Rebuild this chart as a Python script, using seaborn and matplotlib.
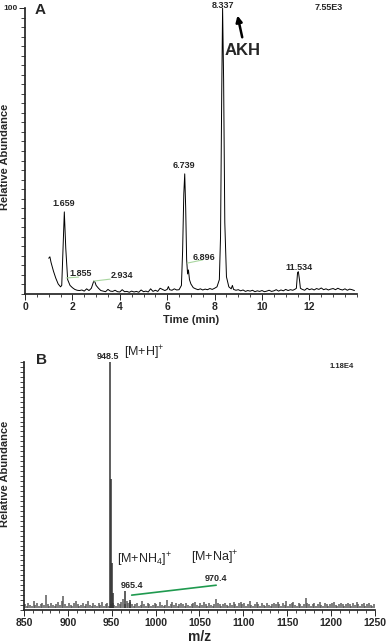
import numpy as np
import matplotlib
matplotlib.use("Agg")
import matplotlib.pyplot as plt
import seaborn as sns

# ---- panel A: chromatogram (time in min, relative abundance in %)
rt_time = [1.0, 1.05, 1.1, 1.2, 1.3, 1.4, 1.5, 1.55, 1.6, 1.659, 1.72, 1.8, 1.9, 2.0,
           2.1, 2.2, 2.3, 2.4, 2.5, 2.6, 2.7, 2.8, 2.9, 2.95, 3.0, 3.1, 3.2, 3.3, 3.4,
           3.5, 3.6, 3.7, 3.8, 3.9, 4.0, 4.1, 4.2, 4.3, 4.4, 4.5, 4.6, 4.7, 4.8, 4.9,
           5.0, 5.1, 5.2, 5.3, 5.4, 5.5, 5.6, 5.7, 5.8, 5.9, 6.0, 6.05, 6.1, 6.2, 6.3,
           6.4, 6.5, 6.6, 6.65, 6.7, 6.739, 6.78, 6.82, 6.86, 6.896, 6.94, 7.0, 7.1,
           7.2, 7.3, 7.4, 7.5, 7.6, 7.7, 7.8, 7.9, 8.0, 8.1, 8.2, 8.25, 8.3, 8.337,
           8.38, 8.43, 8.5, 8.6, 8.7, 8.75, 8.8, 8.9, 9.0, 9.1, 9.2, 9.3, 9.4, 9.5,
           9.6, 9.7, 9.8, 9.9, 10.0, 10.1, 10.2, 10.3, 10.4, 10.5, 10.6, 10.7, 10.8,
           10.9, 11.0, 11.1, 11.2, 11.3, 11.4, 11.45, 11.5, 11.534, 11.58, 11.62,
           11.7, 11.8, 11.9, 12.0, 12.1, 12.2, 12.3, 12.4, 12.5, 12.6, 12.7, 12.8,
           12.9, 13.0, 13.1, 13.2, 13.3, 13.4, 13.5, 13.6, 13.7, 13.8, 13.9]
rt_abund = [12.5, 13.0, 11.0, 8.0, 5.5, 3.5, 2.5, 3.0, 15.0, 28.7, 16.0, 5.0, 3.0, 2.2,
            1.6, 1.3, 1.2, 1.4, 1.0, 1.8, 1.2, 2.0, 4.5, 4.2, 3.0, 2.0, 1.2, 1.0, 0.8,
            1.6, 1.0, 0.9, 1.3, 0.8, 0.7, 1.5, 0.8, 0.9, 0.6, 1.0, 0.7, 0.9, 0.6, 1.4,
            0.8, 1.0, 0.7, 1.8, 0.9, 1.3, 0.9, 2.0, 1.6, 1.2, 1.6, 2.6, 1.5, 1.3, 1.8,
            1.4, 1.5, 3.0, 15.0, 35.0, 42.0, 30.0, 12.0, 7.0, 8.4, 5.0, 3.5, 2.2,
            1.8, 1.5, 1.8, 1.4, 1.7, 1.5, 1.9, 1.6, 2.0, 2.5, 5.0, 20.0, 70.0, 100.0,
            75.0, 25.0, 6.0, 2.5, 1.8, 3.0, 1.6, 1.3, 1.5, 1.1, 1.4, 0.9, 1.2, 1.0,
            1.3, 0.8, 1.1, 0.9, 1.2, 0.8, 1.0, 1.3, 0.9, 1.1, 1.5, 1.0, 1.4,
            1.1, 1.6, 1.2, 1.5, 1.3, 1.7, 2.0, 7.5, 7.8, 5.0, 2.0,
            1.6, 1.3, 2.0, 1.5, 1.8, 1.4, 1.9, 1.6, 2.1, 1.5, 1.8, 1.4,
            1.7, 1.9, 1.5, 2.0, 1.6, 1.4, 1.8, 1.3, 1.7, 1.5, 1.2]

# peak labels: text, x, y
peak_labels = ["1.659", "1.855", "2.934", "6.739", "6.896", "8.337", "11.534"]
peak_label_x = [1.62, 2.34, 4.1, 6.72, 7.57, 8.34, 11.57]
peak_label_y = [31.5, 7.0, 6.3, 45.0, 12.6, 101.0, 9.4]

# ---- panel B: mass spectrum
mz_peaks = [948.5, 949.5, 950.5, 951.5, 965.4, 970.4]
int_peaks = [100, 53, 19, 7, 7.5, 4]
noise_heights = [
    2.5, 1.8, 3.0, 2.2, 1.6, 3.5, 2.0, 2.8, 1.7, 2.4, 3.0, 2.1, 6.0, 2.3, 1.8, 2.9, 2.2, 1.6, 2.5, 3.2,
    2.2, 3.8, 5.5, 2.4, 1.7, 3.0, 2.1, 1.8, 2.7, 3.6, 2.3, 1.7, 2.2, 2.9, 1.6, 2.4, 3.5, 2.0, 1.8, 2.8,
    2.1, 1.7, 3.0, 2.2, 3.4, 1.8, 2.3, 2.9, 1.7, 2.5, 3.0, 2.2, 1.8, 2.8, 2.4, 3.2, 4.5, 2.6, 3.6, 3.0,
    3.2, 2.4, 1.8, 2.3, 2.9, 1.7, 2.2, 3.6, 2.4, 1.7, 2.9, 2.3, 1.8, 2.2, 3.0, 2.4, 1.6, 3.4, 2.2, 1.8,
    2.2, 4.2, 1.8, 2.4, 3.2, 2.2, 2.8, 1.7, 2.3, 2.9, 2.3, 1.8, 2.7, 2.2, 1.7, 2.3, 3.0, 3.4, 2.2, 1.8,
    2.8, 2.2, 3.4, 2.3, 1.7, 2.9, 2.2, 1.8, 2.4, 4.5, 2.8, 2.3, 1.7, 2.4, 3.0, 2.2, 1.8, 2.9, 2.2, 3.3,
    2.3, 1.8, 2.8, 3.4, 2.3, 2.9, 1.7, 2.4, 3.6, 2.2, 1.8, 2.3, 3.4, 2.3, 1.7, 2.8, 2.2, 1.8, 2.9, 2.2,
    1.8, 2.3, 2.9, 2.3, 3.4, 2.3, 1.7, 2.8, 2.2, 3.8, 1.8, 2.3, 2.9, 3.3, 2.2, 1.7, 2.8, 2.4, 1.8, 2.3,
    4.8, 2.8, 2.3, 1.7, 2.4, 2.9, 1.8, 2.3, 3.4, 2.2, 1.7, 2.8, 2.3, 1.8, 2.4, 2.9, 3.3, 2.2, 1.7, 2.4,
    2.9, 2.3, 1.7, 2.4, 2.9, 2.3, 1.8, 2.8, 2.2, 3.4, 2.3, 1.7, 2.4, 2.9, 1.8, 2.3, 2.8, 2.2, 1.7, 2.6]
noise_mz = np.arange(851, 1250, 2)

sns.set_theme(style="ticks")
plt.rcParams['font.family'] = ['Liberation Sans', 'DejaVu Sans']
plt.rcParams['font.weight'] = 'bold'
plt.rcParams['mathtext.default'] = 'regular'

fig = plt.figure(figsize=(3.87, 6.43), dpi=100)
axA = fig.add_axes([0.0646, 0.5428, 0.8574, 0.4448])
axB = fig.add_axes([0.062, 0.0513, 0.907, 0.3857])

# ---- A
sns.lineplot(x=rt_time, y=rt_abund, ax=axA, color='black', lw=0.7, sort=True)
axA.set_xlim(0, 14)
axA.set_ylim(0, 100)
axA.set_xticks(np.arange(0, 13, 2))
axA.set_xticks(np.arange(0, 14.01, 0.5), minor=True)
axA.set_yticks([100])
axA.set_yticklabels(['100'], fontsize=6, fontweight='bold')
axA.set_yticks(np.linspace(0, 100, 31), minor=True)
axA.tick_params(axis='x', labelsize=7.5, length=4, width=0.7, pad=2)
axA.tick_params(axis='x', which='minor', length=2.5, width=0.6)
axA.tick_params(axis='y', length=4, width=0.7, pad=1)
axA.tick_params(axis='y', which='minor', length=3, width=0.6)
axA.set_xlabel('Time (min)', fontsize=8, fontweight='bold', labelpad=2)
axA.set_ylabel('Relative Abundance', fontsize=8, fontweight='bold')
axA.yaxis.set_label_coords(-0.044, 0.48)
sns.despine(ax=axA)

for t, x, y in zip(peak_labels, peak_label_x, peak_label_y):
    axA.text(x, y, t, fontsize=6.5, fontweight='bold', ha='center', va='center', clip_on=False)
lc = '#a9d6a0'
axA.plot([1.74, 2.26], [5.6, 5.9], color=lc, lw=0.8)
axA.plot([2.9, 3.6], [4.5, 5.2], color=lc, lw=0.8)
axA.plot([6.85, 7.49], [10.8, 11.9], color=lc, lw=0.8)
axA.text(12.8, 100.3, '7.55E3', fontsize=6.5, fontweight='bold', ha='center', va='center', clip_on=False)
axA.text(0.64, 99.3, 'A', fontsize=11, fontweight='bold', ha='center', va='center')
axA.text(9.2, 85.3, 'AKH', fontsize=12, fontweight='bold', ha='center', va='center')
axA.annotate('', xy=(8.94, 98.3), xytext=(9.19, 88.8),
             arrowprops=dict(arrowstyle='-|>', color='black', lw=1.8, mutation_scale=9))

# ---- B
axB.vlines(noise_mz, 0.8, noise_heights, color='#5a5a5a', lw=1.1)
axB.vlines(mz_peaks, 0.8, int_peaks, color='#333333', lw=1.1)
axB.set_xlim(850, 1250)
axB.set_ylim(0, 100)
axB.set_xticks(np.arange(850, 1251, 50))
axB.set_xticks(np.arange(850, 1251, 10), minor=True)
axB.set_yticks([])
axB.set_yticks(np.arange(0, 101, 2), minor=True)
axB.tick_params(axis='x', labelsize=7.5, length=4, width=0.7, pad=2)
axB.tick_params(axis='x', which='minor', length=2.5, width=0.6)
axB.tick_params(axis='y', which='minor', length=3, width=0.6)
axB.set_xlabel('m/z', fontsize=10, fontweight='bold', labelpad=1)
axB.set_ylabel('Relative Abundance', fontsize=8, fontweight='bold')
axB.yaxis.set_label_coords(-0.04, 0.55)
sns.despine(ax=axB)

axB.text(958, 102.4, '948.5', fontsize=6.5, fontweight='bold', ha='right', va='center', clip_on=False)
axB.text(963.6, 103.6, '[M+H]$^{+}$', fontsize=9, fontweight='normal', ha='left', va='center', clip_on=False)
axB.text(1212.5, 98, '1.18E4', fontsize=5.5, fontweight='bold', ha='center', va='center')
axB.text(987.5, 20, '[M+NH$_4$]$^{+}$', fontsize=9, fontweight='normal', ha='center', va='center')
axB.text(1067, 21, '[M+Na]$^{+}$', fontsize=9, fontweight='normal', ha='center', va='center')
axB.text(973.5, 9.7, '965.4', fontsize=6.5, fontweight='bold', ha='center', va='center')
axB.text(1069, 12.9, '970.4', fontsize=6.5, fontweight='bold', ha='center', va='center')
axB.plot([972.7, 1069], [6, 10], color='#1f9a4f', lw=1.2)
axB.text(870.5, 100.8, 'B', fontsize=11, fontweight='bold', ha='center', va='center')

fig.savefig('out.png', dpi=100)
